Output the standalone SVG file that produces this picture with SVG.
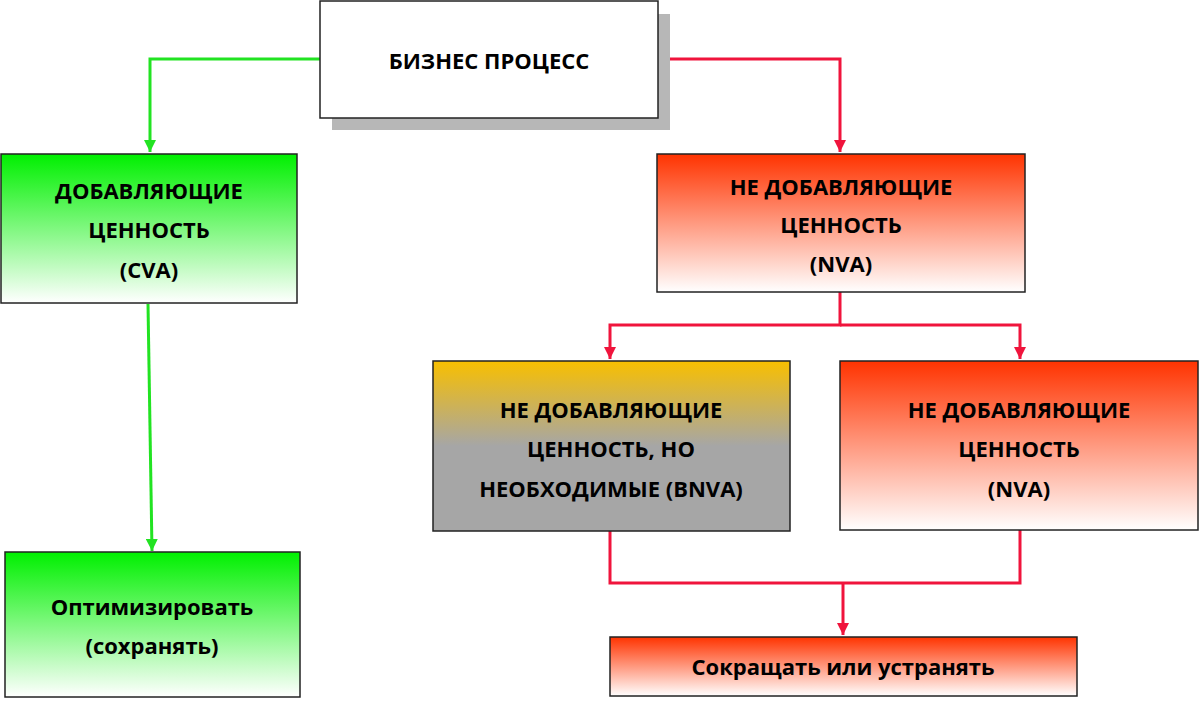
<svg xmlns="http://www.w3.org/2000/svg" width="1200" height="706" viewBox="0 0 1200 706">
<defs>
<linearGradient id="gG" x1="0" y1="0" x2="0" y2="1"><stop offset="0" stop-color="#00f000"/><stop offset="1" stop-color="#ffffff"/></linearGradient>
<linearGradient id="gR" x1="0" y1="0" x2="0" y2="1"><stop offset="0" stop-color="#ff3300"/><stop offset="1" stop-color="#ffffff"/></linearGradient>
<linearGradient id="gY" x1="0" y1="0" x2="0" y2="1"><stop offset="0" stop-color="#f8bf00"/><stop offset="0.5" stop-color="#a6a6a6"/><stop offset="1" stop-color="#a6a6a6"/></linearGradient>
<marker id="aG" viewBox="0 0 10 10" refX="10" refY="5" markerWidth="4" markerHeight="4" orient="auto"><path d="M0,0L10,5L0,10z" fill="#22e322"/></marker>
<marker id="aR" viewBox="0 0 10 10" refX="10" refY="5" markerWidth="4" markerHeight="4" orient="auto"><path d="M0,0L10,5L0,10z" fill="#f0143c"/></marker>
</defs>
<style>
.b{stroke:#222;stroke-width:1.5}
.t{font-family:"Open Sans",sans-serif;font-weight:bold;font-size:22px;fill:#000;text-anchor:middle}
.g{fill:none;stroke:#22e322;stroke-width:3}
.r{fill:none;stroke:#f0143c;stroke-width:3}
</style>
<g id="connectors">
<path class="g" d="M320,59H150V152" marker-end="url(#aG)"/>
<path class="g" d="M148,304L152,551" marker-end="url(#aG)"/>
<path class="r" d="M658,59H840V152" marker-end="url(#aR)"/>
<path class="r" d="M840,292V325H610V359" marker-end="url(#aR)"/>
<path class="r" d="M840,325H1020V359" marker-end="url(#aR)"/>
<path class="r" d="M610,531V583H1020V530"/>
<path class="r" d="M843,583V635" marker-end="url(#aR)"/>
</g>
<g id="n_process">
<rect x="332" y="14" width="338" height="116" fill="#b7b7b7"/>
<rect class="b" x="320" y="1" width="338" height="117" fill="#fff"/>
<text class="t" x="489" y="69">БИЗНЕС ПРОЦЕСС</text>
</g>
<g id="n_cva">
<rect class="b" x="1" y="154" width="296" height="149" fill="url(#gG)"/>
<text class="t" x="149" y="199">ДОБАВЛЯЮЩИЕ</text>
<text class="t" x="149" y="238">ЦЕННОСТЬ</text>
<text class="t" x="149" y="278">(CVA)</text>
</g>
<g id="n_opt">
<rect class="b" x="5" y="552" width="295" height="145" fill="url(#gG)"/>
<text class="t" x="152" y="615">Оптимизировать</text>
<text class="t" x="152" y="654">(сохранять)</text>
</g>
<g id="n_nva">
<rect class="b" x="657" y="154" width="368" height="138" fill="url(#gR)"/>
<text class="t" x="841" y="195">НЕ ДОБАВЛЯЮЩИЕ</text>
<text class="t" x="841" y="233">ЦЕННОСТЬ</text>
<text class="t" x="841" y="272">(NVA)</text>
</g>
<g id="n_bnva">
<rect class="b" x="433" y="361" width="357" height="170" fill="url(#gY)"/>
<text class="t" x="611" y="418">НЕ ДОБАВЛЯЮЩИЕ</text>
<text class="t" x="611" y="457">ЦЕННОСТЬ, НО</text>
<text class="t" x="611" y="497">НЕОБХОДИМЫЕ (BNVA)</text>
</g>
<g id="n_nva2">
<rect class="b" x="840" y="361" width="358" height="169" fill="url(#gR)"/>
<text class="t" x="1019" y="418">НЕ ДОБАВЛЯЮЩИЕ</text>
<text class="t" x="1019" y="457">ЦЕННОСТЬ</text>
<text class="t" x="1019" y="497">(NVA)</text>
</g>
<g id="n_reduce">
<rect class="b" x="610" y="637" width="467" height="59" fill="url(#gR)"/>
<text class="t" x="843" y="675">Сокращать или устранять</text>
</g>
</svg>
